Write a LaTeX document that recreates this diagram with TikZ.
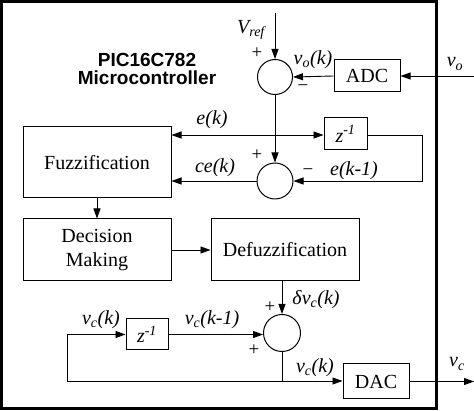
\documentclass[tikz,border=0pt]{standalone}
\usepackage{fontspec}
\setmainfont{Liberation Serif}
\newfontfamily\sansfont{Liberation Sans}
\usetikzlibrary{arrows.meta}
\begin{document}
\begin{tikzpicture}[x=1pt,y=-1pt,
  line width=0.9pt,
  arr/.style={-{Triangle[length=10pt,width=7pt]}},
  box/.style={draw, line width=1pt, inner sep=0pt, font=\fontsize{20}{24}\selectfont},
  sumnode/.style={draw, circle, line width=1pt, inner sep=0pt, minimum size=36pt},
  lab/.style={inner sep=0pt, font=\fontsize{20}{24}\selectfont\itshape},
  sgn/.style={inner sep=0pt, font=\fontsize{19}{20}\selectfont},
  title/.style={inner sep=0pt, align=center, font=\fontsize{19}{18.5}\selectfont\sansfont\bfseries}]
\useasboundingbox (0,0) rectangle (474,411);
% frame
\draw[line width=3pt] (1.5,1.5) rectangle (436,409);
% title
\node[title] (t1) at (147,69) {PIC16C782\\Microcontroller};
% blocks
\node[box, minimum width=148pt, minimum height=71pt] (fuzz) at (97,162.5) {Fuzzification};
\node[box, minimum width=148pt, minimum height=62pt, align=center] (dec) at (97,250) {Decision\\Making};
\node[box, minimum width=148pt, minimum height=62pt] (defuzz) at (285,250) {Defuzzification};
\node[box, minimum width=66pt, minimum height=32pt] (adc) at (367,76) {ADC};
\node[box, minimum width=43pt, minimum height=32pt] (z1) at (345.5,134) {\itshape z\textsuperscript{-1}};
\node[box, minimum width=42pt, minimum height=31pt] (z2) at (147,334.5) {\itshape z\textsuperscript{-1}};
\node[box, minimum width=66pt, minimum height=35pt] (dac) at (376,381.5) {DAC};
% summing junctions
\node[sumnode, minimum size=35pt] (s1) at (275,77) {};
\node[sumnode] (s2) at (275,181) {};
\node[sumnode, minimum size=37pt] (s3) at (282,333) {};
% coordinates
\coordinate (vr) at (275,13);
\coordinate (voin) at (474,76);
\coordinate (j1) at (275,135);
\coordinate (rt) at (422,135);
\coordinate (j2) at (282,381);
\coordinate (lf) at (67,381);
\coordinate (vcout) at (474,381.5);
% connectors
\draw[arr] (vr) -- (s1.north);
\draw[arr] (voin) -- (adc.east);
\draw[arr] (adc.west) -- (s1.east);
\draw[arr] (s1.south) -- (s2.north);
\draw[arr] (j1) -- (fuzz.east |- j1);
\draw[arr] (j1) -- (z1.west |- j1);
\draw[arr] (z1.east |- rt) -- (rt) |- (s2.east);
\draw[arr] (s2.west) -- (fuzz.east |- s2);
\draw[arr] (fuzz.south) -- (dec.north);
\draw[arr] (dec.east) -- (defuzz.west);
\draw[arr] (s3 |- defuzz.south) -- (s3.north);
\draw (s3.south) -- (j2);
\draw[arr] (j2) -- (lf) |- (z2.west);
\draw[arr] (z2.east) -- (s3.west |- z2.east);
\draw[arr] (j2) -- (dac.west |- j2);
\draw[arr] (dac.east) -- (vcout);
% labels
\node[lab] (lvref) at (251,30) {V\textsubscript{ref}};
\node[lab] (lvok) at (313,60) {v\textsubscript{o}(k)};
\node[lab] (lvo) at (455,64) {v\textsubscript{o}};
\node[lab] (lek) at (212,120) {e(k)};
\node[lab] (lcek) at (215,168) {ce(k)};
\node[lab] (lek1) at (354,171) {e(k-1)};
\node[lab] (ldv) at (316,300) {δv\textsubscript{c}(k)};
\node[lab] (lvck) at (101,320) {v\textsubscript{c}(k)};
\node[lab] (lvck1) at (212,320) {v\textsubscript{c}(k-1)};
\node[lab] (lvck2) at (315,368) {v\textsubscript{c}(k)};
\node[lab] (lvc) at (457,364) {v\textsubscript{c}};
% signs
\node[sgn] (p1) at (257,53) {+};
\node[sgn] (m1) at (303,88) {−};
\node[sgn] (p2) at (257,155) {+};
\node[sgn] (m2) at (308,172) {−};
\node[sgn] (p3) at (270,307) {+};
\node[sgn] (p4) at (254,350) {+};
\end{tikzpicture}
\end{document}
